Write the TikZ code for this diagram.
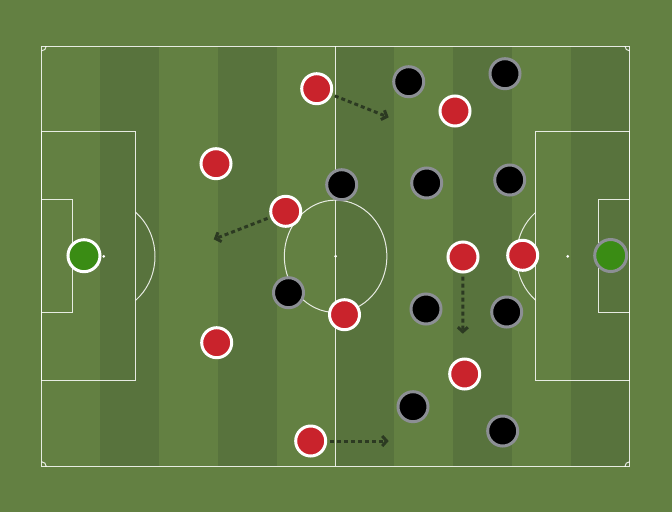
\documentclass[tikz,border=0pt]{standalone}
\usepackage{tikz}
\usetikzlibrary{arrows.meta}
\usetikzlibrary{shadows}
\definecolor{grass}{RGB}{99,128,66}
\definecolor{grassdark}{RGB}{88,115,61}
\definecolor{kitred}{RGB}{201,35,44}
\definecolor{kitgrey}{RGB}{140,143,148}
\definecolor{keeper}{RGB}{58,140,20}
\definecolor{runline}{RGB}{44,58,34}
\tikzset{pitchline/.style={draw=white, draw opacity=0.85, line width=1pt},
player/.style={circle, minimum size=30pt, inner sep=0pt, line width=3pt,
  drop shadow={shadow xshift=0pt, shadow yshift=-1.5pt, opacity=0.3}},
home/.style={player, fill=kitred, draw=white},
away/.style={player, fill=black, draw=kitgrey},
%dashed run of a player
run/.style={runline, line width=3pt, dash pattern=on 4pt off 3pt,
  -{Straight Barb[length=4.5pt,width=10pt]}, shorten <=3pt}}

\begin{document}
\begin{tikzpicture}[x=1pt,y=-1pt]
\fill[grass] (0,0) rectangle (672,512);
\useasboundingbox (0,0) rectangle (672,512);

% stripes
\foreach \i in {1,3,5,7,9}
     \fill[grassdark] ({41.7+\i*58.78},46.3) rectangle ({41.7+(\i+1)*58.78},466.3);

% pitch
\draw[pitchline] (41.7,46.3) rectangle (629.5,466.3);
\draw[pitchline] (335.6,46.3) -- (335.6,466.3);
\draw[pitchline] (335.6,256.3) ellipse [x radius=51.3, y radius=56.2];
\draw[pitchline] (41.7,131.2) rectangle (135.7,380.6);
\draw[pitchline] (41.7,199.5) rectangle (72.9,312.3);
\draw[pitchline] (535.5,131.2) rectangle (629.5,380.6);
\draw[pitchline] (598.3,199.5) rectangle (629.5,312.3);

\foreach \x in {103.7,335.6,567.7}
     \fill[white] (\x,256.3) circle (1.5pt);

\begin{scope}
\clip (41.7,46.3) rectangle (629.5,466.3);
\foreach \cx/\cy in {41.7/46.3, 629.5/46.3, 41.7/466.3, 629.5/466.3}
     \draw[pitchline] (\cx,\cy) circle (4.5pt);
\end{scope}

\begin{scope}
\clip (135.7,46.3) rectangle (535.5,466.3);
\draw[pitchline] (103.7,256.3) ellipse [x radius=51.3, y radius=56.2];
\draw[pitchline] (567.7,256.3) ellipse [x radius=51.3, y radius=56.2];
\end{scope}

% keepers
\node[player, fill=keeper, draw=white, minimum size=32pt] (gkl) at (84,255.7) {};
\node[player, fill=keeper, draw=kitgrey, minimum size=32pt] (gkr) at (610.7,255.5) {};

% red team
\foreach \x/\y [count=\i] in {316.7/88.7, 455/111, 216/163.7, 285.7/211.3, 463/257,
     522.7/255.3, 344.5/314.7, 216.7/342.7, 464.7/374, 310.7/441}
     \node[home] (r\i) at (\x,\y) {};

% black team
\foreach \x/\y [count=\i] in {408.7/81.7, 505/73.7, 341.7/184.7, 426.7/183, 509.7/180,
     288.5/292.7, 426/309, 506.7/312, 413/406.7, 502.7/431}
     \node[away] (b\i) at (\x,\y) {};

% runs
\coordinate (r1to) at (388.7,117.3);
\coordinate (r4to) at (213.7,239.3);
\coordinate (r5to) at (462.8,333.7);
\coordinate (r10to) at (388.7,441);
\draw[run] (r1) -- (r1to);
\draw[run] (r4) -- (r4to);
\draw[run] (r5) -- (r5to);
\draw[run] (r10) -- (r10to);

\end{tikzpicture}
\end{document}
